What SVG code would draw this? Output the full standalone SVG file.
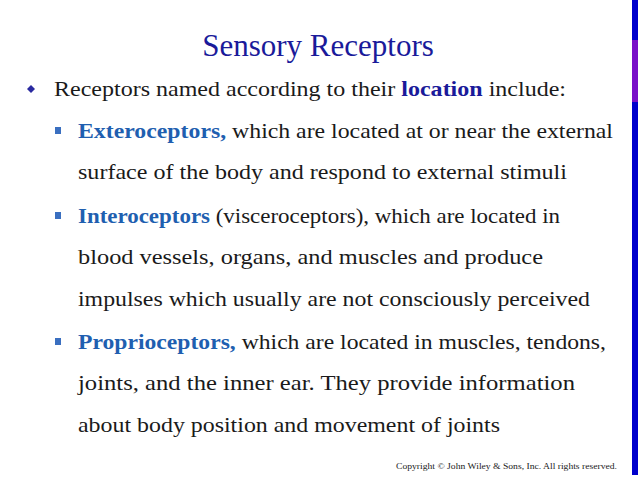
<svg xmlns="http://www.w3.org/2000/svg" width="638" height="479" viewBox="0 0 638 479">
<style>
text{font-family:"Liberation Serif","DejaVu Serif",serif;fill:#1a1a1a}
.b{font-size:21px}
.t{fill:#1f5fb0;font-weight:bold}
.l{fill:#1a1a9a;font-weight:bold}
.sq{fill:#3a6fc0}
</style>
<rect width="638" height="479" fill="#fff"/>
<rect x="632" y="0" width="6" height="475" fill="#0000cc"/>
<rect x="632" y="40" width="6" height="62" fill="#7a10c8"/>
<text x="318" y="56" text-anchor="middle" font-size="31" style="fill:#1a1a9a">Sensory Receptors</text>
<path d="M31,85 l4,4 l-4,4 l-4,-4z" fill="#2a2aa0"/>
<text class="b" x="54" y="96" textLength="512" lengthAdjust="spacingAndGlyphs">Receptors named according to their <tspan class="l">location</tspan> include:</text>
<rect class="sq" x="55" y="127" width="6" height="7"/>
<text class="b" x="78" y="138" textLength="535" lengthAdjust="spacingAndGlyphs"><tspan class="t">Exteroceptors,</tspan> which are located at or near the external</text>
<text class="b" x="78" y="179" textLength="489" lengthAdjust="spacingAndGlyphs">surface of the body and respond to external stimuli</text>
<rect class="sq" x="55" y="212" width="6" height="7"/>
<text class="b" x="78" y="223" textLength="482" lengthAdjust="spacingAndGlyphs"><tspan class="t">Interoceptors</tspan>  (visceroceptors), which are located in</text>
<text class="b" x="78" y="264" textLength="465" lengthAdjust="spacingAndGlyphs">blood vessels, organs, and muscles and produce</text>
<text class="b" x="78" y="306" textLength="512" lengthAdjust="spacingAndGlyphs">impulses which usually are not consciously perceived</text>
<rect class="sq" x="55" y="338" width="6" height="7"/>
<text class="b" x="78" y="349" textLength="528" lengthAdjust="spacingAndGlyphs"><tspan class="t">Proprioceptors,</tspan> which are located in muscles, tendons,</text>
<text class="b" x="78" y="390" textLength="497" lengthAdjust="spacingAndGlyphs">joints, and the inner ear.  They provide information</text>
<text class="b" x="78" y="432" textLength="422" lengthAdjust="spacingAndGlyphs">about body position and movement of joints</text>
<text x="396" y="469" font-size="9" textLength="221" lengthAdjust="spacingAndGlyphs">Copyright © John Wiley &amp; Sons, Inc. All rights reserved.</text>
</svg>
